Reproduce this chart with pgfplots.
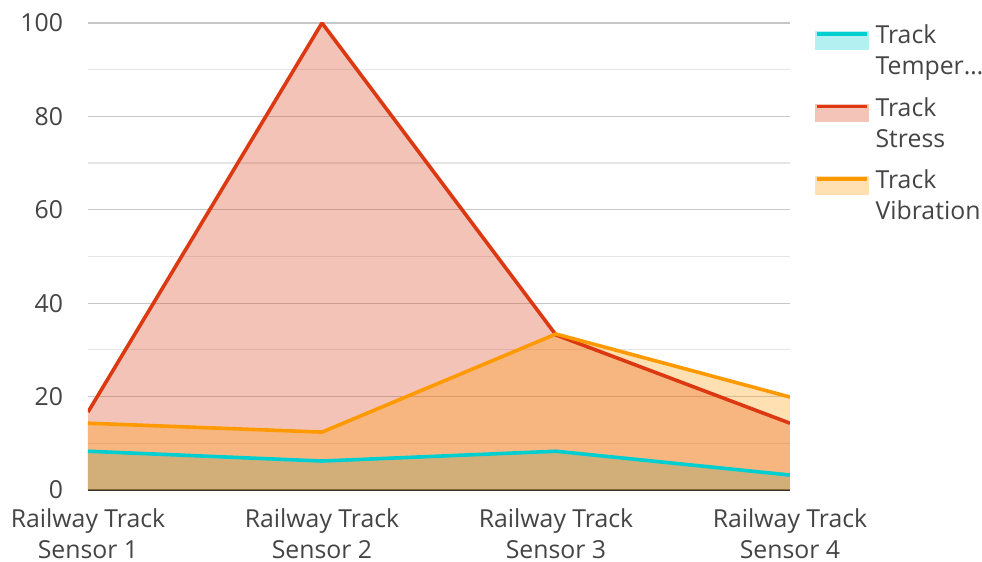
\documentclass[border=0pt]{standalone}
\usepackage{fontspec}
\setmainfont{Open Sans}
\usepackage{pgfplots}
\pgfplotsset{compat=1.18}
\definecolor{cTemp}{RGB}{0,206,209}
\definecolor{cStress}{RGB}{220,57,18}
\definecolor{cVib}{RGB}{255,153,0}
\definecolor{txt}{RGB}{68,68,68}
\pgfplotsset{
  areaicon/.style={legend image code/.code={
    \fill[#1!30] (0pt,-2pt) rectangle (25pt,5.5pt);
    \draw[#1, line width=1.7pt] (0pt,5pt) -- (25pt,5pt);
  }}
}
\newcommand{\twol}[2]{\begin{tabular}[t]{@{}l@{}}#1\\#2\end{tabular}}
\begin{document}
\begin{tikzpicture}
\useasboundingbox (-44pt,-36pt) rectangle (447pt,245pt);
\begin{axis}[
  at={(0pt,0pt)}, anchor=south west,
  scale only axis, width=351pt, height=233.5pt,
  xmin=0, xmax=3, ymin=0, ymax=100,
  enlargelimits=false,
  axis x line*=bottom, axis y line*=left,
  x axis line style={draw=black!80, line width=1pt},
  y axis line style={draw=none},
  major tick length=0pt, minor tick length=0pt,
  xtick={0,1,2,3},
  xticklabels={{Railway Track\\Sensor 1},{Railway Track\\Sensor 2},{Railway Track\\Sensor 3},{Railway Track\\Sensor 4}},
  xticklabel style={align=center, font=\fontsize{12.4}{15.5}\selectfont, text=txt, yshift=-6pt},
  ytick={0,20,40,60,80,100},
  minor ytick={10,30,50,70,90},
  yticklabel style={font=\fontsize{12.4}{14}\selectfont, text=txt, xshift=-9pt},
  /pgf/number format/assume math mode=true,
  ymajorgrids, yminorgrids,
  major grid style={draw=black!22, line width=0.6pt},
  minor grid style={draw=black!10, line width=0.6pt},
  legend style={at={(363.5pt,233.9pt)}, anchor=north west, draw=none, fill=none,
    inner sep=0pt, outer sep=0pt,
    font=\fontsize{12.4}{15.5}\selectfont, text=txt,
    nodes={inner sep=0pt, anchor=base west},
    row sep=22.5pt, column sep=3.5pt},
  legend cell align=left,
]
\addplot[draw=none, fill=cTemp, fill opacity=0.3, forget plot] coordinates {(0,8.3) (1,6.2) (2,8.3) (3,3.2)} \closedcycle;
\addplot[draw=none, fill=cStress, fill opacity=0.3, forget plot] coordinates {(0,16.7) (1,100) (2,33.2) (3,14.3)} \closedcycle;
\addplot[draw=none, fill=cVib, fill opacity=0.3, forget plot] coordinates {(0,14.3) (1,12.4) (2,33.4) (3,19.9)} \closedcycle;
\addplot[cTemp, line width=1.8pt, areaicon=cTemp] coordinates {(0,8.3) (1,6.2) (2,8.3) (3,3.2)};
\addlegendentry{\twol{Track}{Temper…}}
\addplot[cStress, line width=1.8pt, areaicon=cStress] coordinates {(0,16.7) (1,100) (2,33.2) (3,14.3)};
\addlegendentry{\twol{Track}{Stress}}
\addplot[cVib, line width=1.8pt, areaicon=cVib] coordinates {(0,14.3) (1,12.4) (2,33.4) (3,19.9)};
\addlegendentry{\twol{Track}{Vibration}}
\end{axis}
\end{tikzpicture}
\end{document}
